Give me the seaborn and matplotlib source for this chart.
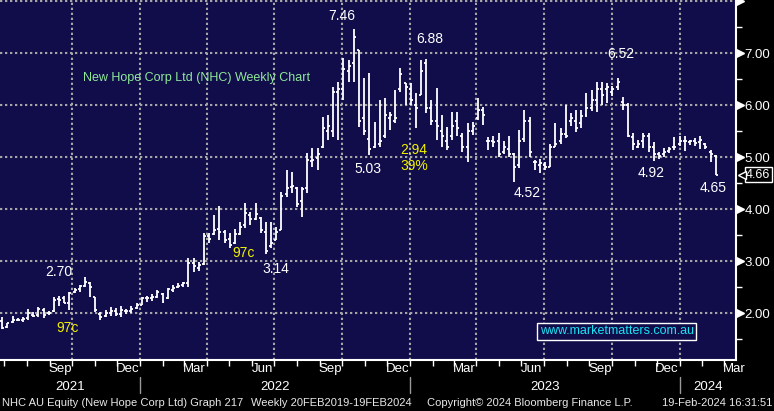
import numpy as np
import pandas as pd
import seaborn as sns
import matplotlib
matplotlib.use("Agg")
import matplotlib.pyplot as plt
import matplotlib.dates as mdates
import matplotlib.transforms as mtransforms


# weekly OHLC bars, NHC (Jun 2021 - Feb 2024)
opens = [1.85, 1.74, 1.82, 1.87, 1.86, 1.90, 1.97, 1.97, 2.05, 2.00,
         2.03, 2.27, 2.28, 2.20, 2.40, 2.46, 2.52, 2.58, 2.30, 1.98,
         1.94, 2.00, 2.03, 1.98, 2.03, 2.04, 2.10, 2.16, 2.28, 2.29,
         2.31, 2.36, 2.28, 2.45, 2.50, 2.54, 2.58, 2.96, 2.86, 2.95,
         3.48, 3.52, 3.62, 3.56, 3.42, 3.35, 3.52, 3.70, 3.88, 3.80,
         3.82, 3.55, 3.28, 3.40, 3.60, 4.28, 4.42, 4.40, 4.15, 4.40,
         4.92, 4.98, 5.20, 5.50, 5.50, 6.25, 6.30, 6.65, 6.80, 7.05,
         5.75, 5.35, 5.20, 5.25, 5.40, 5.75, 5.70, 6.30, 6.42, 6.30,
         6.00, 6.20, 6.80, 5.95, 5.70, 5.50, 5.30, 5.40, 5.70, 5.40,
         5.20, 5.50, 5.75, 5.90, 5.30, 5.30, 5.30, 5.10, 5.15, 5.05,
         4.85, 5.35, 5.70, 4.90, 4.85, 4.85, 4.80, 5.20, 5.30, 5.45,
         5.70, 5.70, 5.65, 5.80, 5.95, 6.10, 6.30, 6.30, 6.25, 6.35,
         6.05, 6.00, 5.38, 5.20, 5.30, 5.40, 5.20, 5.05, 5.05, 5.12,
         5.20, 5.25, 5.30, 5.28, 5.30, 5.28, 5.25, 5.10, 5.02]
highs = [1.92, 1.81, 1.94, 1.90, 1.92, 2.08, 2.02, 2.12, 2.10, 2.04,
         2.31, 2.32, 2.33, 2.40, 2.48, 2.54, 2.70, 2.60, 2.31, 2.02,
         2.06, 2.12, 2.10, 2.14, 2.08, 2.14, 2.19, 2.31, 2.33, 2.37,
         2.44, 2.38, 2.48, 2.54, 2.58, 2.60, 3.06, 3.06, 2.98, 3.54,
         3.54, 3.88, 4.05, 3.60, 3.54, 3.62, 3.75, 4.12, 3.95, 4.12,
         3.85, 3.75, 3.75, 3.65, 4.33, 4.75, 4.71, 4.42, 4.42, 5.08,
         5.17, 5.17, 5.77, 5.81, 6.35, 6.44, 6.90, 6.87, 7.46, 7.06,
         6.52, 6.62, 5.67, 6.10, 6.13, 5.87, 6.29, 6.71, 6.42, 6.42,
         6.23, 6.87, 6.88, 6.10, 6.33, 5.81, 5.58, 5.87, 5.87, 5.46,
         5.65, 5.67, 6.13, 5.96, 5.38, 5.40, 5.46, 5.30, 5.40, 5.08,
         5.52, 5.90, 5.77, 4.94, 4.96, 4.90, 5.25, 5.65, 5.55, 6.00,
         5.85, 5.90, 5.90, 6.23, 6.29, 6.44, 6.44, 6.42, 6.36, 6.52,
         6.15, 6.04, 5.46, 5.33, 5.46, 5.46, 5.29, 5.10, 5.17, 5.19,
         5.38, 5.40, 5.40, 5.33, 5.37, 5.40, 5.27, 5.13, 5.04]
lows = [1.69, 1.71, 1.81, 1.84, 1.83, 1.87, 1.92, 1.92, 1.90, 1.97,
        2.02, 2.14, 2.19, 2.06, 2.38, 2.40, 2.50, 2.31, 2.02, 1.87,
        1.92, 1.94, 1.94, 1.92, 1.98, 2.00, 2.08, 2.15, 2.21, 2.23,
        2.29, 2.19, 2.27, 2.40, 2.48, 2.50, 2.50, 2.79, 2.80, 2.92,
        3.35, 3.50, 3.40, 3.35, 3.25, 3.33, 3.50, 3.63, 3.69, 3.79,
        3.54, 3.14, 3.25, 3.40, 3.60, 4.23, 4.31, 4.04, 3.85, 4.31,
        4.81, 4.75, 5.17, 5.33, 5.38, 5.33, 6.10, 6.44, 6.44, 5.58,
        5.42, 5.03, 5.17, 5.19, 5.37, 5.52, 5.65, 6.25, 6.00, 6.00,
        5.56, 6.19, 5.85, 5.62, 5.33, 5.19, 5.13, 5.33, 5.40, 5.10,
        4.90, 5.42, 5.71, 5.62, 5.13, 5.19, 5.00, 5.06, 5.00, 4.52,
        4.79, 5.29, 5.00, 4.75, 4.70, 4.75, 4.80, 5.19, 5.25, 5.36,
        5.60, 5.48, 5.55, 5.77, 5.88, 5.87, 6.00, 6.04, 6.17, 6.29,
        5.90, 5.38, 5.13, 5.17, 5.17, 5.10, 4.92, 4.97, 5.00, 5.08,
        5.13, 5.22, 5.12, 5.23, 5.22, 5.15, 5.15, 4.90, 4.65]
closes = [1.72, 1.80, 1.87, 1.86, 1.88, 2.00, 1.95, 2.08, 1.96, 2.00,
          2.25, 2.26, 2.20, 2.38, 2.44, 2.52, 2.60, 2.50, 2.05, 1.92,
          2.00, 2.03, 1.98, 2.05, 2.04, 2.08, 2.15, 2.29, 2.29, 2.30,
          2.40, 2.22, 2.46, 2.48, 2.52, 2.58, 2.96, 2.90, 2.92, 3.48,
          3.42, 3.60, 3.56, 3.40, 3.30, 3.52, 3.65, 3.92, 3.80, 3.90,
          3.60, 3.20, 3.35, 3.55, 4.25, 4.40, 4.45, 4.10, 4.38, 4.95,
          4.95, 5.05, 5.55, 5.60, 6.25, 6.30, 6.70, 6.75, 7.30, 5.70,
          5.50, 5.15, 5.25, 5.30, 5.80, 5.80, 5.75, 6.60, 6.35, 6.10,
          5.95, 6.65, 5.95, 5.70, 5.60, 5.40, 5.20, 5.60, 5.55, 5.20,
          5.50, 5.60, 5.90, 5.80, 5.30, 5.28, 5.05, 5.20, 5.05, 4.80,
          5.30, 5.70, 5.10, 4.90, 4.88, 4.80, 5.20, 5.25, 5.45, 5.40,
          5.75, 5.55, 5.78, 5.95, 6.10, 6.30, 6.20, 6.35, 6.30, 6.45,
          6.00, 5.40, 5.25, 5.25, 5.40, 5.20, 5.05, 5.02, 5.10, 5.15,
          5.20, 5.30, 5.30, 5.30, 5.27, 5.32, 5.20, 5.05, 4.66]
dates = pd.date_range(end="2024-02-19", periods=len(closes), freq="W-MON")

last_price = "4.66"
price_ticks = [2, 3, 4, 5, 6, 7]

# call-outs on the chart
note_text = ["7.46", "6.88", "6.52", "5.03", "4.52", "4.92", "4.65",
             "2.70", "3.14", "97c", "97c", "2.94", "39%"]
note_date = ["2022-10-01", "2023-01-28", "2023-10-13", "2022-11-05",
             "2023-06-09", "2023-11-23", "2024-02-15", "2021-09-12",
             "2022-07-03", "2021-09-25", "2022-05-21", "2023-01-06",
             "2023-01-07"]
note_price = [7.71, 7.27, 6.98, 4.77, 4.31, 4.69, 4.40,
              2.79, 2.85, 1.71, 3.15, 5.13, 4.83]
note_color = ["white"] * 9 + ["#f2f200"] * 4

title_text = "New Hope Corp Ltd (NHC) Weekly Chart"
site_text = "www.marketmatters.com.au"
years = ["2021", "2022", "2023", "2024"]

sns.set_theme(style="dark")
plt.rcParams['font.family'] = ['Liberation Sans', 'DejaVu Sans']

bg = '#100d4a'
fig = plt.figure(figsize=(7.74, 4.11), dpi=100, facecolor='black')
ax = fig.add_axes([0, 0.124, 0.951, 0.876])
ax.set_facecolor(bg)

x = mdates.date2num(dates)
xmin = mdates.date2num(pd.Timestamp("2021-06-25"))
xmax = xmin + 996.5
ax.set_xlim(xmin, xmax)
ax.set_ylim(1.096, 8.02)

# OHLC bars
ax.vlines(x, lows, highs, color='white', lw=1.3, zorder=3)
ax.hlines(opens, x - 2.7, x, color='white', lw=1.3, zorder=3)
ax.hlines(closes, x, x + 2.7, color='white', lw=1.3, zorder=3)

# dotted grid
grid_kw = dict(color='#a5a5a5', lw=1.5, ls=(0, (1.1, 1.3)), zorder=1)
for p in price_ticks + [8]:
    ax.axhline(p, **grid_kw)
for d in pd.date_range("2021-10-01", "2024-01-01", freq="QS"):
    ax.axvline(mdates.date2num(d), **grid_kw)

# x axis: month ticks, quarter labels at mid-month
ax.xaxis_date()
month_starts = pd.date_range("2021-07-01", "2024-03-01", freq="MS")
ax.set_xticks(mdates.date2num(month_starts), minor=True)
lab_months = pd.date_range("2021-09-01", "2024-03-01", freq="3MS") + pd.Timedelta(days=14)
ax.set_xticks(mdates.date2num(lab_months))
ax.set_xticklabels([d.strftime("%b") for d in lab_months])
ax.tick_params(axis='x', which='major', length=0, pad=2, labelsize=9.5, colors='white')
ax.tick_params(axis='x', which='minor', length=4, width=1, color='white', direction='out', bottom=True)

# y axis on the right
ax.yaxis.tick_right()
ax.set_yticks(price_ticks)
ax.set_yticklabels([f"{p:.2f}" for p in price_ticks])
ax.set_yticks(np.arange(1.5, 8.0, 1.0), minor=True)
ax.tick_params(axis='y', which='major', length=0, pad=6, labelsize=9.5, colors='white')
ax.tick_params(axis='y', which='minor', length=4, width=1, color='white', right=True, left=False)
ax.grid(False)

tri = mtransforms.blended_transform_factory(ax.transAxes, ax.transData)
ax.plot([1.0055] * 7, price_ticks + [8], ls='', marker='>', ms=5.5, color='white',
        transform=tri, clip_on=False, zorder=5)

for s in ['left', 'top']:
    ax.spines[s].set_visible(False)
for s in ['right', 'bottom']:
    ax.spines[s].set_color('white')
    ax.spines[s].set_linewidth(1.5)

# last price box with pointer
lp = float(last_price)
ax.text(1.0135, lp, last_price, transform=tri, ha='left', va='center',
        color='white', fontsize=9, zorder=6,
        bbox=dict(boxstyle='square,pad=0.12', fc='black', ec='white', lw=1))
ax.plot([1.0075], [lp], ls='', marker='<', ms=6, mfc='black', mec='white', mew=1,
        transform=tri, clip_on=False, zorder=7)

# call-out labels
for t, d, p, c in zip(note_text, note_date, note_price, note_color):
    ax.text(mdates.date2num(pd.Timestamp(d)), p, t, color=c, fontsize=10,
            ha='center', va='center', zorder=4)

ax.text(mdates.date2num(pd.Timestamp("2021-10-15")), 6.52, title_text,
        color='#8fe89a', fontsize=9, ha='left', va='center')
ax.text(mdates.date2num(pd.Timestamp("2023-10-08")), 1.65, site_text,
        color='#19e3f5', fontsize=9, ha='center', va='center', zorder=4,
        bbox=dict(boxstyle='square,pad=0.2', fc=bg, ec='white', lw=1))

# year row with separators
yx = mtransforms.blended_transform_factory(ax.transData, ax.transAxes)
bounds = [xmin] + [mdates.date2num(pd.Timestamp(f"{y}-01-01")) for y in ["2022", "2023", "2024"]] + [xmax]
for i, yr in enumerate(years):
    ax.text((bounds[i] + bounds[i + 1]) / 2, -0.075, yr, transform=yx, color='white',
            fontsize=9.5, ha='center', va='center')
for b in bounds[1:-1]:
    ax.plot([b, b], [-0.047, -0.092], color='#9a9a9a', lw=1, transform=yx, clip_on=False)

# footer
foot_y = 0.0195
fig.text(2 / 774, foot_y, "NHC AU Equity (New Hope Corp Ltd) Graph 217", color='#e8e8e8', fontsize=8, va='center')
fig.text(251 / 774, foot_y, "Weekly 20FEB2019-19FEB2024", color='#e8e8e8', fontsize=8, va='center')
fig.text(427 / 774, foot_y, "Copyright\u00a9 2024 Bloomberg Finance L.P.", color='#e8e8e8', fontsize=8, va='center')
fig.text(772 / 774, foot_y, "19-Feb-2024 16:31:51", color='#e8e8e8', fontsize=8, va='center', ha='right')

fig.savefig("out.png", dpi=100, facecolor='black')
